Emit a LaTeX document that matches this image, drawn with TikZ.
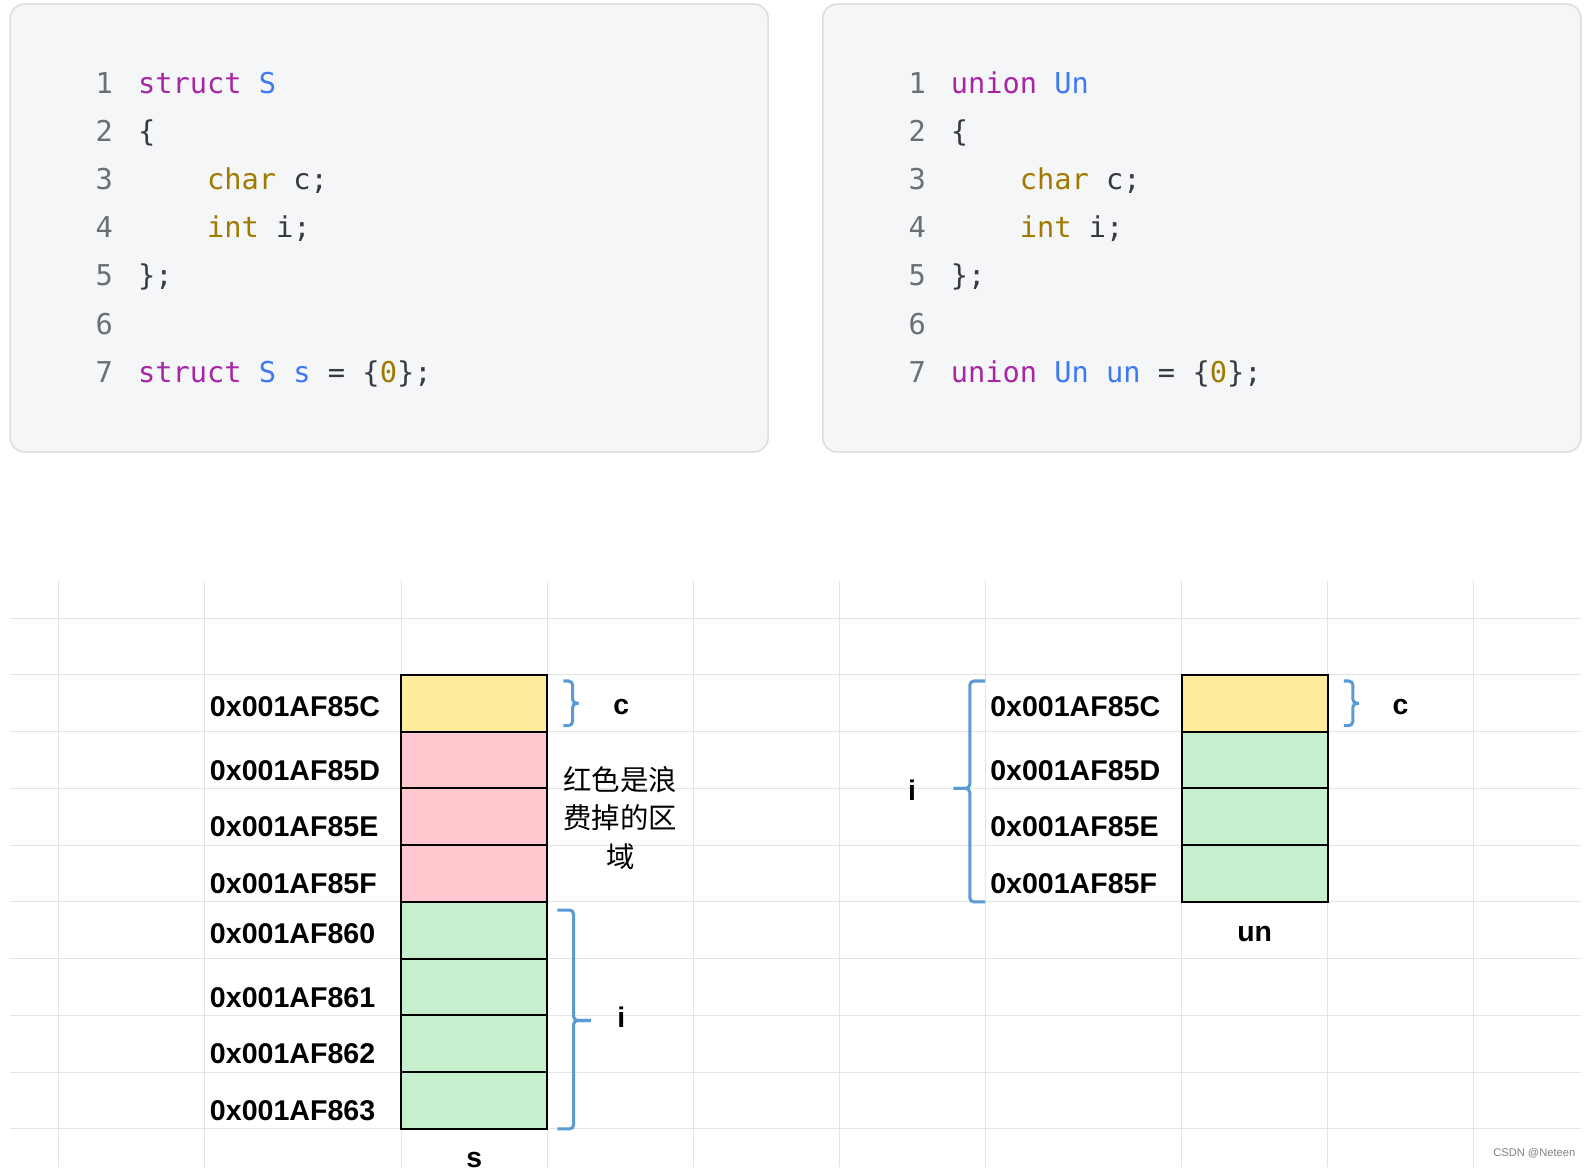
\documentclass[tikz,border=0pt]{standalone}
\usepackage{fontspec}
\setmainfont{Liberation Sans}
\newfontfamily\codefont{DejaVu Sans Mono}
\newfontfamily\cjk{Noto Sans CJK SC}
\definecolor{boxbg}{HTML}{F5F6F8}
\definecolor{boxbd}{HTML}{DCDDE0}
\definecolor{kw}{HTML}{A626A4}
\definecolor{ty}{HTML}{4078F2}
\definecolor{bt}{HTML}{A07A00}
\definecolor{ln}{HTML}{6A6E75}
\definecolor{tx}{HTML}{383A42}
\definecolor{gridc}{HTML}{E4E4E4}
\definecolor{yel}{HTML}{FFEB9C}
\definecolor{pnk}{HTML}{FFC7CE}
\definecolor{grn}{HTML}{C6EFCE}
\definecolor{brc}{HTML}{5B9BD5}
\begin{document}
\begin{tikzpicture}[x=1pt,y=-1pt,
  codebox/.style={draw=boxbd,line width=1.5pt,fill=boxbg,rounded corners=14pt},
  code/.style={anchor=base west,font=\codefont\fontsize{28.3}{28}\selectfont,text=tx,inner sep=0},
  lnum/.style={anchor=base,font=\codefont\fontsize{28.3}{28}\selectfont,text=ln,inner sep=0},
  addr/.style={anchor=west,font=\bfseries\fontsize{28.2}{28}\selectfont,inner sep=0},
  cell/.style={draw=black,line width=2pt,minimum width=144pt,minimum height=56pt,inner sep=0},
  lab/.style={font=\bfseries\fontsize{28}{28}\selectfont,inner sep=0},
  br/.style={draw=brc,line width=3pt,rounded corners=4pt}]
\useasboundingbox (0,0) rectangle (1568,1152);
\fill[white] (0,0) rectangle (1568,1152);
% code boxes
\draw[codebox] (10,4) rectangle (758,446);
\draw[codebox] (812,4) rectangle (1560,446);
\foreach \n/\y in {1/92,2/140,3/187,4/234,5/282,6/330,7/377}{
  \node[lnum] (la\n) at (103,\y) {\n};
  \node[lnum] (lb\n) at (905,\y) {\n};
}
\node[code] (a1) at (136,92) {\textcolor{kw}{struct} \textcolor{ty}{S}};
\node[code] (a2) at (136,140) {\{};
\node[code] (a3) at (136,187) {\ \ \ \ \textcolor{bt}{char} c;};
\node[code] (a4) at (136,234) {\ \ \ \ \textcolor{bt}{int} i;};
\node[code] (a5) at (136,282) {\};};
\node[code] (a7) at (136,377) {\textcolor{kw}{struct} \textcolor{ty}{S s} = \{\textcolor{bt}{0}\};};
\node[code] (b1) at (938,92) {\textcolor{kw}{union} \textcolor{ty}{Un}};
\node[code] (b2) at (938,140) {\{};
\node[code] (b3) at (938,187) {\ \ \ \ \textcolor{bt}{char} c;};
\node[code] (b4) at (938,234) {\ \ \ \ \textcolor{bt}{int} i;};
\node[code] (b5) at (938,282) {\};};
\node[code] (b7) at (938,377) {\textcolor{kw}{union} \textcolor{ty}{Un un} = \{\textcolor{bt}{0}\};};
% grid
\foreach \x in {58,202,396,540,684,828,972,1166,1310,1454}
  \draw[gridc,line width=1pt] (\x,573) -- (\x,1152);
\foreach \y in {610,666,722,778,834,890,946,1002,1058,1114}
  \draw[gridc,line width=1pt] (10,\y) -- (1560,\y);
% cells
\foreach \k/\c in {0/yel,1/pnk,2/pnk,3/pnk,4/grn,5/grn,6/grn,7/grn}
  \node[cell,fill=\c] (s\k) at (468,694+56*\k) {};
\foreach \k/\c in {0/yel,1/grn,2/grn,3/grn}
  \node[cell,fill=\c] (u\k) at (1238,694+56*\k) {};
\foreach \k/\t/\y in {0/0x001AF85C/697,1/0x001AF85D/760,2/0x001AF85E/816,3/0x001AF85F/872,4/0x001AF860/921,5/0x001AF861/984,6/0x001AF862/1040,7/0x001AF863/1096}
  \node[addr] (sa\k) at (207,\y) {\t};
\foreach \k/\t/\y in {0/0x001AF85C/697,1/0x001AF85D/760,2/0x001AF85E/816,3/0x001AF85F/872}
  \node[addr] (ua\k) at (977,\y) {\t};
% brackets
\draw[br] (556,672) -- (565,672) -- (565,694) -- (571,694);
\draw[br] (571,694) -- (565,694) -- (565,716) -- (556,716);
\draw[br] (550,898) -- (566,898) -- (566,1007) -- (583,1007);
\draw[br] (583,1007) -- (566,1007) -- (566,1114) -- (550,1114);
\draw[br] (1326,672) -- (1335,672) -- (1335,694) -- (1341,694);
\draw[br] (1341,694) -- (1335,694) -- (1335,716) -- (1326,716);
\draw[br] (972,672) -- (957,672) -- (957,778) -- (941,778);
\draw[br] (941,778) -- (957,778) -- (957,890) -- (972,890);
\node[lab] (sc) at (613,698) {c};
\node[lab] (si) at (613,1004) {i};
\node[lab] (uc) at (1382,698) {c};
\node[lab] (ui) at (900,780) {i};
\node[lab] (un) at (1238,922) {un};
\node[font=\cjk\fontsize{28}{38}\selectfont,align=center,inner sep=0] (waste) at (612,807) {红色是浪\\费掉的区\\域};
\begin{scope}
\clip (0,0) rectangle (1589,1152);
\node[lab] (sl) at (468,1145) {s};
\end{scope}
\node[font=\fontsize{11}{11}\selectfont,text=gray] (wm) at (1514,1138) {CSDN @Neteen};
\end{tikzpicture}
\end{document}
